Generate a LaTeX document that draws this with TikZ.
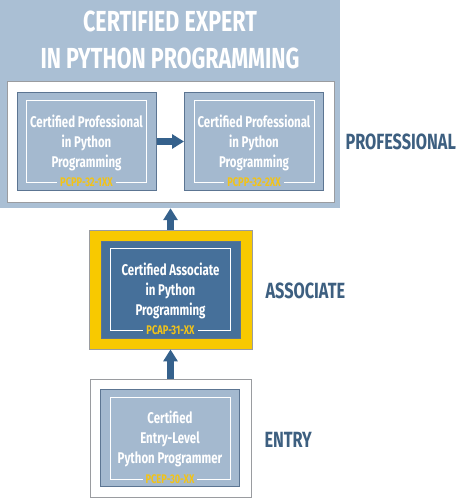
\documentclass[tikz,border=0pt]{standalone}
\usepackage{fontspec}
\usetikzlibrary{arrows.meta}
\newfontfamily\condfont[FakeStretch=0.74]{Fira Sans}
\definecolor{expertbg}{HTML}{AABFD4}
\definecolor{certlight}{HTML}{A4B9CF}
\definecolor{certedge}{HTML}{5C7592}
\definecolor{certdark}{HTML}{46709A}
\definecolor{assocgold}{HTML}{F8C900}
\definecolor{codegold}{HTML}{F2C318}
\definecolor{levelblue}{HTML}{3D5F80}
\definecolor{arrowblue}{HTML}{35618C}
\definecolor{framegrey}{HTML}{9A9CA0}

\begin{document}
\begin{tikzpicture}[x=1pt,y=-1pt,
  certbox/.style={draw=certedge,line width=1pt,minimum width=139pt,minimum height=97pt,inner sep=0pt},
  outerframe/.style={draw=framegrey,line width=0.8pt,inner sep=0pt},
  certtext/.style={text=white,font=\condfont\bfseries\fontsize{15.5}{20}\selectfont,align=center},
  code/.style={text=codegold,font=\condfont\bfseries\fontsize{12.5}{12}\selectfont,inner xsep=3pt,inner ysep=1pt},
  level/.style={text=levelblue,font=\condfont\bfseries\fontsize{22}{22}\selectfont,anchor=west},
  uparrow/.style={draw=arrowblue,line width=6.5pt,-{Triangle[width=14pt,length=12pt]}}]
  \useasboundingbox (0,0) rectangle (456,500);

  % expert level
  \node[fill=expertbg,minimum width=340pt,minimum height=208pt,inner sep=0pt] (expert) at (170,104) {};
  \node[text=white,font=\condfont\bfseries\fontsize{29}{37}\selectfont,align=center] (experttitle) at (170,40)
    {CERTIFIED EXPERT\\IN PYTHON PROGRAMMING};

  % professional level
  \node[outerframe,fill=white,minimum width=327pt,minimum height=121pt] (profframe) at (170.5,141.5) {};
  \node[certbox,fill=certlight] (pcpp1) at (86.5,141.5) {};
  \node[certbox,fill=certlight] (pcpp2) at (254,141.5) {};

  % associate level
  \node[outerframe,fill=assocgold,minimum width=163pt,minimum height=119pt] (assocframe) at (170.5,289.5) {};
  \node[certbox,fill=certdark] (pcap) at (170.5,289.5) {};

  % entry level
  \node[outerframe,fill=white,minimum width=161pt,minimum height=118pt] (entryframe) at (170.5,438) {};
  \node[certbox,fill=certlight] (pcep) at (170,438) {};

  \foreach \b in {pcpp1,pcpp2,pcap,pcep}{
    \draw[white,line width=0.8pt] ([shift={(10pt,-8pt)}]\b.north west) rectangle ([shift={(-10pt,8pt)}]\b.south east);
  }

  \node[certtext] (pcpp1text) at ([yshift=-1pt]pcpp1.center) {Certified Professional\\in Python\\Programming};
  \node[certtext] (pcpp2text) at ([yshift=-1pt]pcpp2.center) {Certified Professional\\in Python\\Programming};
  \node[certtext] (pcaptext) at ([yshift=-1pt]pcap.center) {Certified Associate\\in Python\\Programming};
  \node[certtext] (pceptext) at ([yshift=-1pt]pcep.center) {Certified\\Entry-Level\\Python Programmer};

  \node[code,fill=certlight] (pcpp1code) at ([yshift=8pt]pcpp1.south) {PCPP-32-1XX};
  \node[code,fill=certlight] (pcpp2code) at ([yshift=8pt]pcpp2.south) {PCPP-32-2XX};
  \node[code,fill=certdark] (pcapcode) at ([yshift=8pt]pcap.south) {PCAP-31-XX};
  \node[code,fill=certlight] (pcepcode) at ([yshift=8pt]pcep.south) {PCEP-30-XX};

  \node[level] (proflevel) at (342,142) {PROFESSIONAL};
  \node[level] (assoclevel) at (262,291) {ASSOCIATE};
  \node[level] (entrylevel) at (261,440) {ENTRY};

  \draw[uparrow] (pcpp1.east) -- (pcpp2.west);
  \draw[uparrow] (assocframe.north) -- (assocframe.north |- expert.south);
  \draw[uparrow] (entryframe.north) -- (entryframe.north |- assocframe.south);
\end{tikzpicture}
\end{document}
